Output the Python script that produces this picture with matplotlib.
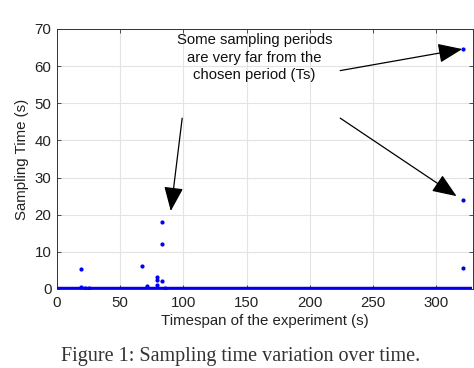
import matplotlib
matplotlib.use("Agg")
import matplotlib.pyplot as plt

plt.rcParams['font.family'] = ['Liberation Sans', 'DejaVu Sans']

# Baseline of regular samples (period close to zero on this scale)
base_x = [0, 328]
base_y = [0.1, 0.1]

# Outlier sampling periods
out_x = [18.7, 19.0, 22.0, 25.0, 67.5, 71.0, 79.4, 79.4, 79.4, 83.0, 83.0, 83.0, 85.4, 320.7, 320.7, 320.7]
out_y = [5.5, 0.6, 0.2, 0.2, 6.2, 0.9, 3.1, 2.5, 1.2, 12.2, 18.1, 2.2, 0.4, 5.7, 23.9, 64.5]

x_ticks = [0, 50, 100, 150, 200, 250, 300]
y_ticks = [0, 10, 20, 30, 40, 50, 60, 70]

fig = plt.figure(figsize=(4.74, 3.68), dpi=100)
ax = fig.add_axes([57/474, 1-289/368, (473-57)/474, (289-29)/368])

ax.plot(base_x, base_y, color='#0000ee', lw=3.2, solid_capstyle='butt', zorder=3)
ax.plot(out_x, out_y, '.', color='#0000ee', ms=4, zorder=4)

ax.set_xlim(0, 329)
ax.set_ylim(0, 70)
ax.set_xticks(x_ticks)
ax.set_yticks(y_ticks)
ax.grid(True, color='#e3e3e3', lw=0.8)
ax.set_axisbelow(True)
ax.tick_params(direction='in', top=True, right=True, labelsize=10.8, length=3,
               color='#333333', labelcolor='#222222', width=0.6)
ax.tick_params(axis='x', pad=5)
ax.tick_params(axis='y', pad=4)
for s in ax.spines.values():
    s.set_color('#333333')
    s.set_linewidth(0.7)

ax.set_xlabel('Timespan of the experiment (s)', fontsize=10.8, color='#222222', labelpad=3)
ax.set_ylabel('Sampling Time (s)', fontsize=10.8, color='#222222', labelpad=4)

ax.text(156, 62.3, 'Some sampling periods\nare very far from the\nchosen period (Ts)',
        ha='center', va='center', fontsize=10.7, linespacing=1.3, color='#111111')

aprops = dict(arrowstyle='-|>,head_length=1.5,head_width=0.6', color='black',
              lw=0.9, mutation_scale=10, shrinkA=0, shrinkB=0)
ax.annotate('', xy=(320.5, 64.6), xytext=(224, 58.8), arrowprops=aprops)
ax.annotate('', xy=(316, 25.0), xytext=(224, 46.0), arrowprops=aprops)
ax.annotate('', xy=(90, 21.0), xytext=(99, 46.0), arrowprops=aprops)

fig.text(241/474, 1-357/368, 'Figure 1: Sampling time variation over time.',
         ha='center', va='center', fontsize=14.5, family=['Liberation Serif', 'DejaVu Serif'],
         color='#333333')

fig.savefig('out.png', dpi=100)
